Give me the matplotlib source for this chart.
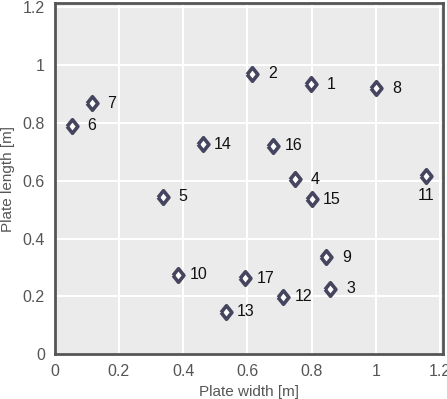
import matplotlib
matplotlib.use('Agg')
import matplotlib.pyplot as plt

# Plate dimensions
plate_ids = ['1', '2', '3', '4', '5', '6', '7', '8', '9', '10',
             '11', '12', '13', '14', '15', '16', '17']
plate_width = [0.799, 0.615, 0.858, 0.749, 0.337, 0.054, 0.116, 1.001, 0.845, 0.385,
               1.156, 0.712, 0.533, 0.461, 0.801, 0.681, 0.594]
plate_length = [0.933, 0.970, 0.226, 0.604, 0.544, 0.789, 0.867, 0.919, 0.335, 0.274,
                0.617, 0.199, 0.147, 0.726, 0.536, 0.720, 0.263]
ticks = [0, 0.2, 0.4, 0.6, 0.8, 1, 1.2]
tick_labels = ['0', '0.2', '0.4', '0.6', '0.8', '1', '1.2']
below_ids = ['11']

plt.rcParams['font.family'] = ['Liberation Sans', 'DejaVu Sans']

# slightly squashed diamond
diamond = [(-0.4, 0), (0, 0.5), (0.4, 0), (0, -0.5), (-0.4, 0)]

fig = plt.figure(figsize=(4.47, 3.99), dpi=100)
ax = fig.add_axes([0.122, 0.112, 0.870, 0.880])
ax.set_facecolor('#ebebeb')

ax.scatter(plate_width, plate_length, marker=diamond, s=95, facecolor='white',
           edgecolor='#46455f', linewidth=2.6, zorder=3)

for pid, x, y in zip(plate_ids, plate_width, plate_length):
  if pid in below_ids:
    ax.annotate(pid, (x, y), xytext=(0, -14), textcoords='offset points',
                ha='center', va='center', fontsize=11.5, color='#111111')
  else:
    ax.annotate(pid, (x, y), xytext=(14.5, 0), textcoords='offset points',
                ha='center', va='center', fontsize=11.5, color='#111111')

ax.set_xlim(0, 1.21)
ax.set_ylim(0, 1.213)
ax.set_xticks(ticks)
ax.set_xticklabels(tick_labels)
ax.set_yticks(ticks)
ax.set_yticklabels(tick_labels)
ax.grid(True, color='white', linewidth=1.5)
ax.set_axisbelow(True)
ax.tick_params(length=0, labelsize=11.5, labelcolor='#555555', pad=7)

for s in ax.spines.values():
  s.set_color('#555555')
  s.set_linewidth(2)

ax.set_xlabel('Plate width [m]', fontsize=11, color='#555555', labelpad=4)
ax.set_ylabel('Plate length [m]', fontsize=11, color='#555555', labelpad=5)

fig.savefig('out.png', dpi=100)
